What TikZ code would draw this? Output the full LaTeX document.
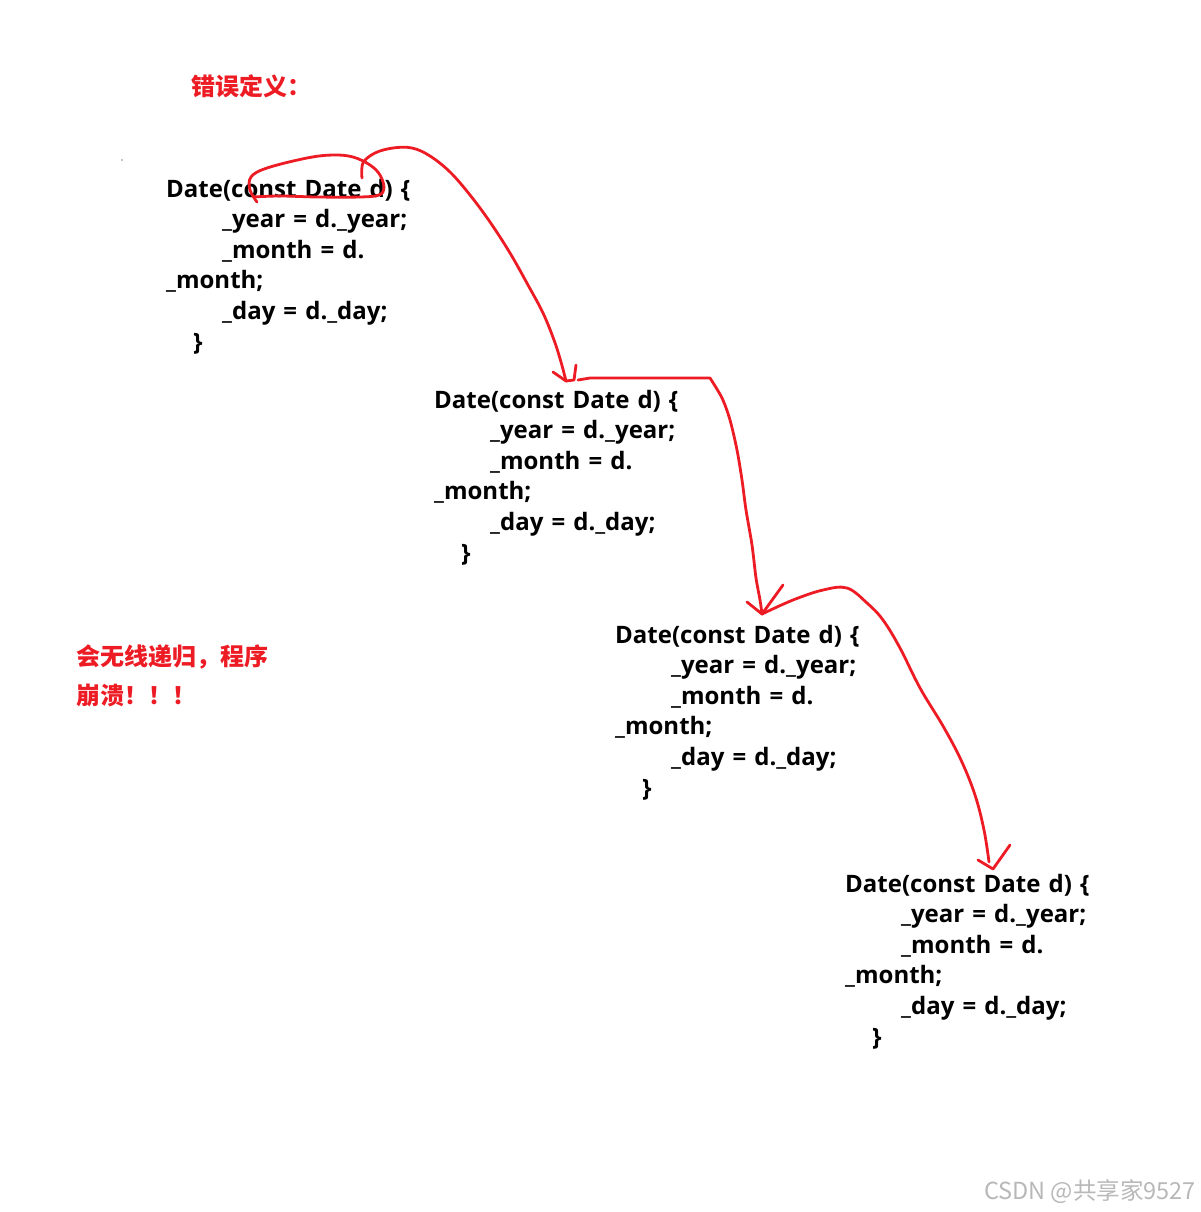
\documentclass[tikz,border=0pt]{standalone}
\usepackage{fontspec}
\setmainfont{Open Sans}[WordSpace=1.3]
\newfontfamily\cjk{Noto Sans CJK SC}

\definecolor{pen}{RGB}{237,28,36}

% 一段拷贝构造函数代码: 名字, 第一行左下 (基线) 坐标
\newcommand\codeblk[3]{%
  \begin{scope}[shift={(#2,#3)}]
    \node[code] (#1a) at (0,0) {Date(const Date d) \{};
    \node[code] (#1b) at (56,30.6) {\_year = d.\_year;};
    \node[code] (#1c) at (56,61.2) {\_month = d.};
    \node[code] (#1d) at (0,91.8) {\_month;};
    \node[code] (#1e) at (56,122.4) {\_day = d.\_day;};
    \node[code] (#1f) at (27,153) {\}};
  \end{scope}}

\begin{document}
\begin{tikzpicture}[x=1pt, y=-1pt,
    code/.style={anchor=base west, inner sep=0pt, font=\fontsize{24}{24}\selectfont\bfseries},
    note/.style={anchor=west, inner sep=0pt, text=pen, font=\cjk\fontsize{24}{24}\selectfont\bfseries},
    hand/.style={pen, line width=2.8pt, line cap=round, line join=round}]
    \useasboundingbox (0,0) rectangle (1200,1212);

    % 标题和说明
    \node[note] (title) at (191,86) {错误定义：};
    \node[note] (warn1) at (76,657) {会无线递归，程序};
    \node[note] (warn2) at (76,695) {崩溃！！！};
    \fill (122,160) circle (0.7);

    % 四层递归调用
    \codeblk{f}{166}{197}
    \codeblk{g}{434}{408}
    \codeblk{h}{615}{643}
    \codeblk{k}{845}{892}

    % 圈出参数 const Date d
    \draw[hand] plot[smooth, tension=0.6] coordinates {(257,202) (250,190) (251,177) (267,168) (307,158)
        (333,155) (353,157) (370,165) (380,175) (384,188) (379,195) (360,197) (317,197) (280,196) (253,197)};

    % 第一次调用
    \coordinate (tip1) at (566,381);
    \draw[hand] plot[smooth, tension=0.6] coordinates {(362,178) (363,163) (375,153) (393,148) (412,148)
        (430,156) (450,172) (470,195) (490,222) (510,253) (528,285) (543,313) (554,340) (561,362) (tip1)};
    \draw[hand] (553,372) -- (tip1) -- (574,380) -- (576,365);

    % 第二次调用
    \coordinate (tip2) at (762,614);
    \draw[hand] (578,380) -- (590,378) -- (710,378) -- plot[smooth, tension=0.5] coordinates {(710,378)
        (722,398) (730,420) (737,450) (742,480) (746,510) (752,545) (756,578) (760,600) (tip2)};
    \draw[hand] (747,602) -- (tip2) -- (783,585);

    % 第三次调用
    \coordinate (tip3) at (993,869);
    \draw[hand] plot[smooth, tension=0.6] coordinates {(tip2) (793,600) (823,590) (847,588) (867,603)
        (883,620) (900,648) (920,688) (943,726) (961,760) (975,795) (984,830) (989,862)};
    \draw[hand] (978,860) -- (tip3) -- (1010,845);

    % 水印
    \node[anchor=east, inner sep=0pt, text=black!28, font=\cjk\fontsize{23.5}{23.5}\selectfont] (mark) at (1196,1192) {CSDN @共享家9527};
\end{tikzpicture}
\end{document}
